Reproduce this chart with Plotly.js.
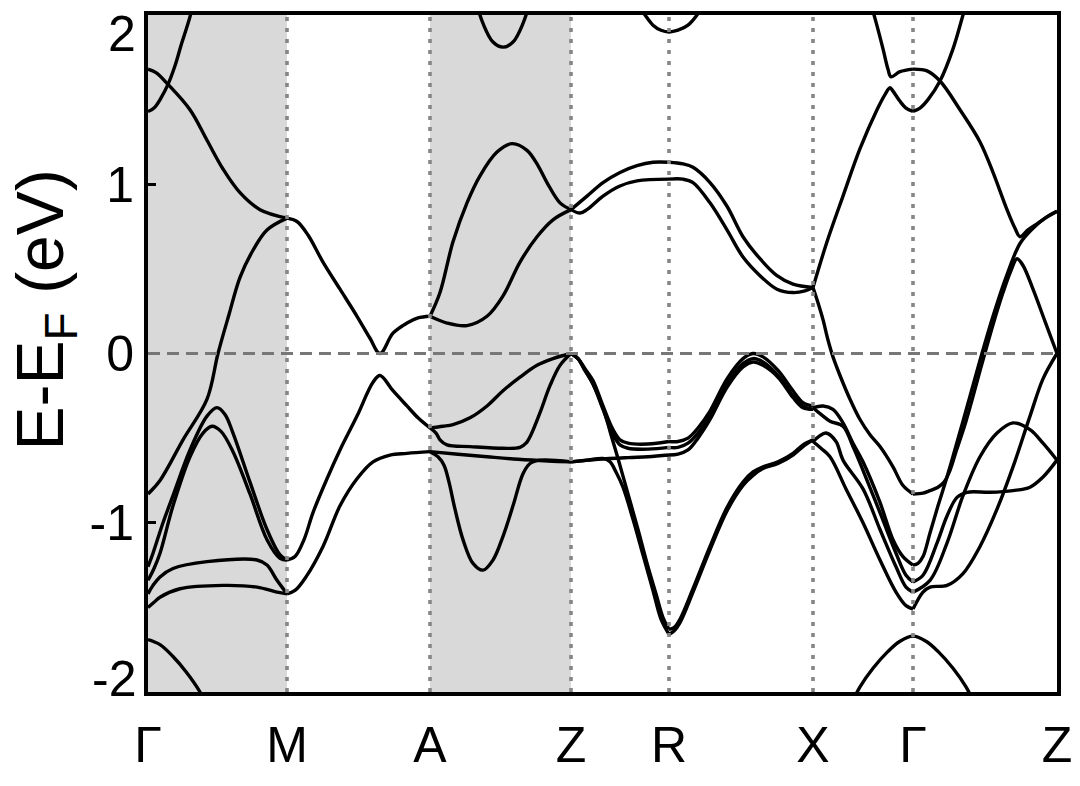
<!DOCTYPE html>
<html>
<head>
<meta charset="utf-8">
<script src="https://cdn.plot.ly/plotly-3.0.1.min.js"></script>
<style>html,body{margin:0;padding:0;background:#fff;}#chart{width:1080px;height:786px;}</style>
</head>
<body>
<div id="chart"></div>
<script>
// High-symmetry path (k-distance units) and labels
const kTicks = [0, 139, 282, 423, 521, 665, 765, 909];
const kLabels = ['Γ', 'M', 'A', 'Z', 'R', 'X', 'Γ', 'Z'];
const eTicks = [-2, -1, 0, 1, 2];
const eLabels = ['-2', '-1', '0', '1', '2'];
const yTitle = 'E-E<sub>F</sub> (eV)';

// ---- Bands: [k, E-E_F (eV)] ----
// Γ–M
const GM_a = [[0,1.68],[8,1.66],[20,1.59],[42,1.44],[59,1.26],[75,1.09],[92,0.95],[112,0.85],[139,0.80]];
const GM_b = [[0,1.43],[6,1.45],[13,1.51],[20,1.59],[27,1.70],[33,1.82],[42,1.99],[46,2.1]];
const GM_c = [[0,-0.83],[12,-0.75],[35,-0.51],[59,-0.27],[70,0.0],[81,0.23],[92,0.45],[105,0.61],[119,0.73],[139,0.80]];
const GM_d = [[0,-1.26],[5,-1.18],[15,-1.00],[25,-0.84],[42,-0.57],[59,-0.37],[69,-0.32],[77,-0.36],[85,-0.47],[102,-0.76],[119,-1.04],[132,-1.19],[139,-1.22]];
const GM_e = [[0,-1.34],[6,-1.27],[12,-1.18],[25,-0.90],[42,-0.61],[55,-0.47],[64,-0.43],[73,-0.46],[85,-0.58],[102,-0.83],[119,-1.10],[132,-1.21],[139,-1.22]];
const GM_f = [[0,-1.42],[5,-1.37],[12,-1.32],[25,-1.27],[59,-1.23],[109,-1.22],[119,-1.25],[129,-1.34],[139,-1.42]];
const GM_g = [[0,-1.50],[6,-1.47],[12,-1.44],[32,-1.39],[75,-1.37],[109,-1.38],[129,-1.41],[139,-1.42]];
const GM_h = [[0,-1.69],[12,-1.72],[25,-1.79],[38,-1.88],[52,-2.0],[56,-2.05]];
// M–A
const MA_a = [[139,0.80],[149,0.78],[160,0.70],[175,0.54],[192,0.38],[209,0.22],[222,0.09],[232,0.0],[245,0.12],[259,0.18],[270,0.21],[282,0.22]];
const MA_b = [[139,-1.22],[147,-1.20],[156,-1.10],[165,-0.94],[179,-0.74],[192,-0.57],[209,-0.37],[225,-0.17],[232,-0.13],[245,-0.22],[259,-0.31],[270,-0.38],[282,-0.44]];
const MA_c = [[139,-1.42],[147,-1.40],[158,-1.32],[175,-1.14],[192,-0.90],[209,-0.74],[225,-0.64],[242,-0.60],[259,-0.59],[282,-0.58]];
// A–Z
const AZ_a = [[282,0.22],[292,0.36],[305,0.66],[319,0.89],[332,1.05],[349,1.19],[364,1.24],[379,1.20],[390,1.11],[399,1.01],[412,0.89],[423,0.85]];
const AZ_b = [[282,0.22],[299,0.18],[319,0.165],[339,0.22],[355,0.34],[372,0.54],[389,0.69],[405,0.79],[423,0.85]];
const AZ_c = [[328,2.08],[335,1.95],[345,1.84],[355,1.81],[365,1.84],[375,1.95],[382,2.08]];
const AZ_d = [[282,-0.44],[295,-0.43],[305,-0.42],[322,-0.38],[339,-0.31],[355,-0.22],[372,-0.14],[389,-0.07],[405,-0.03],[423,0.0]];
const AZ_e = [[282,-0.44],[288,-0.47],[292,-0.51],[299,-0.54],[322,-0.55],[355,-0.56],[372,-0.555],[378,-0.53],[383,-0.48],[392,-0.35],[402,-0.19],[412,-0.07],[423,0.0]];
const AZ_f = [[282,-0.58],[310,-0.595],[339,-0.61],[370,-0.625],[400,-0.635],[423,-0.64]];
const AZ_g = [[282,-0.58],[290,-0.61],[296,-0.66],[301,-0.76],[307,-0.92],[315,-1.10],[325,-1.24],[335,-1.28],[345,-1.22],[355,-1.08],[365,-0.90],[375,-0.71],[382,-0.65],[392,-0.63],[423,-0.64]];
// Z–R
const ZR_a = [[423,0.85],[439,0.93],[455,1.01],[472,1.07],[489,1.11],[505,1.13],[521,1.13]];
const ZR_b = [[423,0.85],[432,0.83],[439,0.85],[455,0.93],[472,0.99],[489,1.02],[521,1.03]];
const ZR_c = [[490,2.06],[497,2.0],[505,1.94],[513,1.91],[521,1.90],[530,1.91],[540,1.94],[549,2.0],[555,2.06]];
const ZR_d = [[423,0.0],[430,-0.03],[437,-0.09],[445,-0.16],[455,-0.31],[465,-0.45],[472,-0.51],[480,-0.53],[500,-0.535],[521,-0.52]];
const ZR_e = [[423,0.0],[430,-0.03],[437,-0.10],[445,-0.18],[455,-0.33],[465,-0.48],[472,-0.54],[480,-0.56],[500,-0.565],[521,-0.555]];
const ZR_f = [[423,-0.64],[450,-0.625],[480,-0.615],[500,-0.61],[521,-0.60]];
const ZR_g = [[423,0.0],[430,-0.03],[437,-0.10],[445,-0.18],[455,-0.32],[463,-0.48],[470,-0.62],[480,-0.83],[490,-1.04],[500,-1.26],[508,-1.42],[515,-1.56],[521,-1.63]];
const ZR_h = [[423,-0.64],[440,-0.63],[455,-0.62],[462,-0.64],[468,-0.70],[475,-0.79],[485,-0.98],[495,-1.19],[505,-1.40],[513,-1.57],[521,-1.66]];
// R–X
const RX_a = [[521,1.13],[535,1.12],[545,1.10],[562,1.01],[579,0.87],[595,0.69],[612,0.56],[629,0.46],[645,0.41],[665,0.39]];
const RX_b = [[521,1.03],[535,1.03],[545,1.01],[562,0.89],[579,0.73],[595,0.57],[612,0.46],[629,0.38],[645,0.36],[657,0.37],[665,0.39]];
const RX_c = [[521,-0.52],[530,-0.52],[540,-0.50],[550,-0.44],[562,-0.34],[579,-0.15],[595,-0.03],[605,0.0],[615,-0.02],[630,-0.10],[645,-0.22],[655,-0.29],[665,-0.31]];
const RX_d = [[521,-0.555],[530,-0.555],[540,-0.53],[550,-0.47],[562,-0.37],[579,-0.18],[595,-0.06],[605,-0.03],[615,-0.05],[630,-0.13],[645,-0.25],[655,-0.31],[665,-0.33]];
const RX_e = [[521,-0.60],[530,-0.595],[540,-0.57],[550,-0.50],[562,-0.39],[579,-0.20],[595,-0.08],[605,-0.05],[615,-0.07],[630,-0.14],[645,-0.26],[655,-0.32],[665,-0.33]];
const RX_f = [[521,-1.63],[526,-1.62],[532,-1.57],[545,-1.39],[562,-1.14],[579,-0.91],[595,-0.76],[605,-0.70],[615,-0.67],[630,-0.64],[645,-0.59],[655,-0.54],[665,-0.51]];
const RX_g = [[521,-1.66],[526,-1.64],[532,-1.59],[545,-1.41],[562,-1.16],[579,-0.93],[595,-0.78],[605,-0.72],[615,-0.68],[630,-0.65],[645,-0.60],[655,-0.55],[665,-0.51]];
// X–Γ
const XG_a = [[665,0.39],[670,0.30],[675,0.20],[680,0.08],[685,-0.02],[692,-0.13],[702,-0.27],[712,-0.39],[722,-0.48],[732,-0.55],[745,-0.67],[755,-0.78],[765,-0.83]];
const XG_b = [[665,0.39],[679,0.66],[695,0.93],[712,1.21],[729,1.44],[737,1.53],[742,1.57],[745,1.55],[752,1.49],[758,1.45],[765,1.43]];
const XG_c = [[722,2.08],[727,1.98],[735,1.80],[740,1.68],[743,1.635],[752,1.665],[765,1.68]];
const XG_d = [[665,-0.32],[675,-0.31],[685,-0.33],[695,-0.41],[705,-0.53],[715,-0.64],[732,-0.88],[745,-1.10],[755,-1.20],[765,-1.25]];
const XG_e = [[665,-0.32],[673,-0.36],[682,-0.40],[695,-0.43],[705,-0.55],[715,-0.69],[732,-0.94],[748,-1.18],[758,-1.31],[765,-1.35]];
const XG_f = [[665,-0.52],[671,-0.49],[678,-0.47],[688,-0.52],[695,-0.63],[715,-0.80],[732,-1.04],[748,-1.26],[758,-1.38],[765,-1.41]];
const XG_g = [[665,-0.52],[673,-0.56],[682,-0.61],[698,-0.80],[715,-1.00],[732,-1.22],[748,-1.41],[758,-1.49],[765,-1.51]];
const XG_h = [[705,-2.05],[712,-1.97],[725,-1.86],[740,-1.76],[752,-1.70],[765,-1.67],[778,-1.70],[790,-1.76],[805,-1.86],[818,-1.97],[825,-2.05]];
// Γ–Z
const GZ_a = [[765,1.68],[779,1.67],[792,1.61],[812,1.44],[832,1.25],[845,1.07],[859,0.85],[867,0.74],[872,0.69],[880,0.73],[890,0.77],[900,0.81],[909,0.84]];
const GZ_b = [[765,1.43],[772,1.45],[780,1.50],[792,1.61],[805,1.80],[815,2.0],[819,2.08]];
const GZ_c = [[765,-1.25],[770,-1.24],[775,-1.20],[782,-1.06],[790,-0.90],[799,-0.73],[815,-0.40],[832,-0.04],[845,0.22],[858,0.45],[872,0.65],[885,0.74],[897,0.80],[909,0.84]];
const GZ_d = [[765,-0.83],[775,-0.825],[782,-0.81],[790,-0.79],[796,-0.76],[802,-0.69],[808,-0.58],[818,-0.40],[834,-0.06],[845,0.17],[855,0.36],[863,0.49],[869,0.56],[875,0.52],[885,0.38],[897,0.19],[909,0.0]];
const GZ_e = [[765,-1.35],[775,-1.31],[789,-1.12],[799,-0.96],[809,-0.85],[819,-0.82],[842,-0.82],[865,-0.81],[882,-0.79],[895,-0.73],[909,-0.63]];
const GZ_f = [[765,-1.41],[782,-1.34],[799,-1.12],[815,-0.84],[832,-0.61],[849,-0.47],[865,-0.41],[882,-0.45],[895,-0.53],[909,-0.63]];
const GZ_g = [[765,-1.51],[775,-1.41],[782,-1.38],[799,-1.37],[815,-1.30],[832,-1.14],[849,-0.92],[865,-0.67],[882,-0.37],[895,-0.15],[909,0.0]];

const bands = [GM_a,GM_b,GM_c,GM_d,GM_e,GM_f,GM_g,GM_h,
  MA_a,MA_b,MA_c,
  AZ_a,AZ_b,AZ_c,AZ_d,AZ_e,AZ_f,AZ_g,
  ZR_a,ZR_b,ZR_c,ZR_d,ZR_e,ZR_f,ZR_g,ZR_h,
  RX_a,RX_b,RX_c,RX_d,RX_e,RX_f,RX_g,
  XG_a,XG_b,XG_c,XG_d,XG_e,XG_f,XG_g,XG_h,
  GZ_a,GZ_b,GZ_c,GZ_d,GZ_e,GZ_f,GZ_g];

const traces = bands.map(b => ({
  type: 'scatter', mode: 'lines',
  x: b.map(p => p[0]), y: b.map(p => p[1]),
  line: {color: '#000', width: 3.4, shape: 'spline', smoothing: 1},
  hoverinfo: 'skip', showlegend: false
}));

const kMin = kTicks[0], kMax = kTicks[kTicks.length - 1];
const shapes = [];
// shaded panels Γ–M and A–Z
[[kTicks[0], kTicks[1]], [kTicks[2], kTicks[3]]].forEach(([a, b]) => shapes.push({
  type: 'rect', xref: 'x', yref: 'paper', x0: a, x1: b, y0: 0, y1: 1,
  fillcolor: '#d9d9d9', line: {width: 0}, layer: 'below'
}));
// vertical dotted lines at interior high-symmetry points
kTicks.slice(1, -1).forEach(k => shapes.push({
  type: 'line', xref: 'x', yref: 'paper', x0: k, x1: k, y0: 0, y1: 1,
  line: {color: '#868686', width: 3.6, dash: '4px,7px'}, layer: 'above'
}));
// Fermi level
shapes.push({type: 'line', xref: 'x', yref: 'y', x0: kMin, x1: kMax, y0: 0, y1: 0,
  line: {color: '#777', width: 3, dash: '12px,7px'}, layer: 'above'});

const font = 'Liberation Sans, Arial, Helvetica, sans-serif';
const tickSize = 50;
// end labels (2 and -2) sit just inside the frame, as in the reference
const annotations = [
  {xref: 'paper', yref: 'y', x: 0, y: eTicks[eTicks.length - 1], text: eLabels[eLabels.length - 1],
   xanchor: 'right', yanchor: 'middle', xshift: -10, yshift: -19, showarrow: false,
   font: {family: font, size: tickSize, color: '#000'}},
  {xref: 'paper', yref: 'y', x: 0, y: eTicks[0], text: eLabels[0],
   xanchor: 'right', yanchor: 'middle', xshift: -10, yshift: 13, showarrow: false,
   font: {family: font, size: tickSize, color: '#000'}},
  {xref: 'paper', yref: 'paper', x: -0.113, y: 0.564, text: yTitle, textangle: -90,
   xanchor: 'center', yanchor: 'middle', showarrow: false,
   font: {family: font, size: 66, color: '#000'}}
];

const layout = {
  width: 1080, height: 786,
  margin: {l: 148, r: 23, t: 15, b: 94},
  paper_bgcolor: '#fff', plot_bgcolor: '#fff',
  showlegend: false,
  xaxis: {
    range: [kMin, kMax], tickmode: 'array', tickvals: kTicks, ticktext: kLabels,
    ticks: '', showgrid: false, zeroline: false,
    showline: true, mirror: true, linecolor: '#000', linewidth: 4,
    tickfont: {family: font, size: 50, color: '#000'}, ticklabelstandoff: 6
  },
  yaxis: {
    range: [-2, 2], tickmode: 'array', tickvals: eTicks.slice(1, -1), ticktext: eLabels.slice(1, -1),
    ticks: 'inside', ticklen: 8, tickwidth: 3, tickcolor: '#000',
    showgrid: false, zeroline: false,
    showline: true, mirror: true, linecolor: '#000', linewidth: 4,
    tickfont: {family: font, size: tickSize, color: '#000'}
  },
  shapes: shapes,
  annotations: annotations
};

Plotly.newPlot('chart', traces, layout, {staticPlot: true, displayModeBar: false});
</script>
</body>
</html>
